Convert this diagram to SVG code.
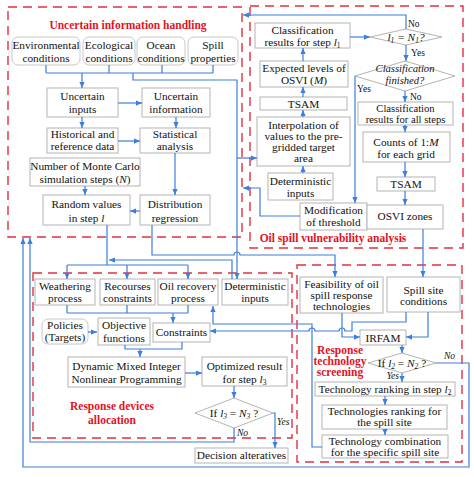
<svg xmlns="http://www.w3.org/2000/svg" width="474" height="477" viewBox="0 0 474 477" font-family="'Liberation Serif', 'Times New Roman', serif">
<defs>
<marker id="ah" viewBox="0 0 8 8" refX="8" refY="4" markerWidth="6" markerHeight="6" markerUnits="userSpaceOnUse" orient="auto"><path d="M0,0.5 L8,4 L0,7.5 z" fill="#3d7fdb"/></marker>
</defs>
<style>
text{font-family:'Liberation Serif','Times New Roman',serif;font-size:11.3px;fill:#111;text-anchor:middle}
.box{fill:#fff;stroke:#b4b4b4;stroke-width:1}
.rbox{fill:#fff;stroke:#c8c8c8;stroke-width:1}
.dia{fill:#fff;stroke:#b4b4b4;stroke-width:1}
.zone{fill:none;stroke:#e2303f;stroke-width:1.4;stroke-dasharray:9,6}
.title{fill:#e3121f;font-weight:bold;font-size:11.5px}
.c{fill:none;stroke:#3d7fdb;stroke-width:1.2}
.a{marker-end:url(#ah)}
.i{font-style:italic}
.lab{font-size:9.5px}
.sub{font-size:7.5px}
.sm{font-size:10.6px}
</style>
<rect width="474" height="477" fill="#fff"/>
<g id="zones">
<rect class="zone" x="8" y="7" width="234" height="230"/>
<rect class="zone" x="250" y="6" width="213" height="242"/>
<rect class="zone" x="33" y="273" width="259" height="165"/>
<rect class="zone" x="297" y="265" width="165" height="197"/>
<text class="title" x="128" y="29">Uncertain information handling</text>
<text class="title" x="333" y="242">Oil spill vulnerability analysis</text>
<text class="title" x="112" y="410">Response devices</text>
<text class="title" x="112" y="424">allocation</text>
<text class="title" x="340" y="354">Response</text>
<text class="title" x="340" y="365">technology</text>
<text class="title" x="340" y="376">screening</text>
</g>
<g id="n-env"><rect class="rbox" x="12" y="37" width="68" height="28" rx="6"/><text x="46" y="49">Environmental</text><text x="46" y="62">conditions</text></g>
<g id="n-eco"><rect class="rbox" x="83" y="37" width="52" height="28" rx="6"/><text x="109" y="49">Ecological</text><text x="109" y="62">conditions</text></g>
<g id="n-ocean"><rect class="rbox" x="137" y="37" width="48" height="28" rx="6"/><text x="161" y="49">Ocean</text><text x="161" y="62">conditions</text></g>
<g id="n-spill"><rect class="rbox" x="188" y="37" width="50" height="28" rx="6"/><text x="213" y="49">Spill</text><text x="213" y="62">properties</text></g>
<g id="n-uinputs"><rect class="box" x="47" y="88" width="71" height="29"/><text x="82.5" y="100">Uncertain</text><text x="82.5" y="113">inputs</text></g>
<g id="n-uinfo"><rect class="box" x="142" y="88" width="68" height="29"/><text x="176" y="100">Uncertain</text><text x="176" y="113">information</text></g>
<g id="n-hist"><rect class="box" x="47" y="128" width="71" height="25"/><text x="82.5" y="138">Historical and</text><text x="82.5" y="150">reference data</text></g>
<g id="n-stat"><rect class="box" x="140" y="128" width="70" height="25"/><text x="175" y="138">Statistical</text><text x="175" y="150">analysis</text></g>
<g id="n-mc"><rect class="box" x="30" y="158" width="110" height="28"/><text x="85" y="170">Number of Monte Carlo</text><text x="85" y="183">simulation steps (<tspan class="i">N</tspan>)</text></g>
<g id="n-random"><rect class="box" x="43" y="195" width="87" height="30"/><text x="86.5" y="208">Random values</text><text x="86.5" y="222">in step <tspan class="i">l</tspan></text></g>
<g id="n-dist"><rect class="box" x="140" y="195" width="70" height="30"/><text x="175" y="208">Distribution</text><text x="175" y="222">regression</text></g>
<g id="n-cls1"><rect class="box" x="255" y="23" width="95" height="25"/><text x="302.5" y="34">Classification</text><text x="302.5" y="46">results for step <tspan class="i">l</tspan><tspan class="sub" dy="2">1</tspan></text></g>
<g id="n-d1"><polygon class="dia" points="370,37 406,29 442,37 406,45"/><text class="i" x="406" y="41">l<tspan class="sub" dy="2">1</tspan><tspan dy="-2"> = N</tspan><tspan class="sub" dy="2">1</tspan><tspan dy="-2">?</tspan></text></g>
<g id="n-dfin"><polygon class="dia" points="355,76 405,61 455,76 405,91"/><text class="i sm" x="405" y="72">Classification</text><text class="i sm" x="405" y="84">finished?</text></g>
<g id="n-exp"><rect class="box" x="260" y="61" width="88" height="26"/><text x="304" y="72">Expected levels of</text><text x="304" y="84">OSVI (<tspan class="i">M</tspan>)</text></g>
<g id="n-tsam1"><rect class="box" x="260" y="97" width="87" height="13"/><text x="303.5" y="108">TSAM</text></g>
<g id="n-interp"><rect class="box" x="257" y="117" width="93" height="49"/><text x="303.5" y="129">Interpolation of</text><text x="303.5" y="140">values to the pre-</text><text x="303.5" y="151">gridded target</text><text x="303.5" y="162">area</text></g>
<g id="n-det1"><rect class="box" x="268" y="173" width="65" height="27"/><text x="300.5" y="185">Deterministic</text><text x="300.5" y="197">inputs</text></g>
<g id="n-mod"><rect class="box" x="300" y="203" width="67" height="27"/><text x="333.5" y="214">Modification</text><text x="333.5" y="226">of threshold</text></g>
<g id="n-clsall"><rect class="box" x="358" y="102" width="95" height="23"/><text class="sm" x="405.5" y="112">Classification</text><text class="sm" x="405.5" y="123">results for all steps</text></g>
<g id="n-counts"><rect class="box" x="363" y="132" width="87" height="30"/><text x="406" y="146">Counts of 1:<tspan class="i">M</tspan></text><text x="406" y="158">for each grid</text></g>
<g id="n-tsam2"><rect class="box" x="377" y="177" width="58" height="14"/><text x="406" y="188">TSAM</text></g>
<g id="n-osvi"><rect class="box" x="367" y="205" width="76" height="24"/><text x="405" y="220">OSVI zones</text></g>
<g id="n-weath"><rect class="box" x="35" y="279" width="60" height="26"/><text x="65" y="290">Weathering</text><text x="65" y="302">process</text></g>
<g id="n-recourse"><rect class="box" x="100" y="279" width="55" height="26"/><text x="127.5" y="290">Recourses</text><text x="127.5" y="302">constraints</text></g>
<g id="n-oilrec"><rect class="box" x="158" y="279" width="60" height="26"/><text x="188" y="290">Oil recovery</text><text x="188" y="302">process</text></g>
<g id="n-det2"><rect class="box" x="222" y="279" width="66" height="26"/><text x="255" y="290">Deterministic</text><text x="255" y="302">inputs</text></g>
<g id="n-policies"><rect class="rbox" x="42" y="319" width="46" height="25" rx="6"/><text x="65" y="329">Policies</text><text x="65" y="341">(Targets)</text></g>
<g id="n-obj"><rect class="box" x="98" y="318" width="52" height="27" stroke="#e4e4e4"/><text x="124" y="329">Objective</text><text x="124" y="342">functions</text></g>
<g id="n-constr"><rect class="box" x="153" y="323" width="57" height="19"/><text x="181.5" y="336">Constraints</text></g>
<g id="n-dminlp"><rect class="box" x="68" y="357" width="117" height="30"/><text x="126.5" y="370">Dynamic Mixed Integer</text><text x="126.5" y="383">Nonlinear Programming</text></g>
<g id="n-opt"><rect class="box" x="202" y="357" width="85" height="29"/><text x="244.5" y="370">Optimized result</text><text x="244.5" y="383">for step <tspan class="i">l</tspan><tspan class="sub" dy="2">3</tspan></text></g>
<g id="n-d3"><polygon class="dia" points="195,413 234,398 273,413 234,428"/><text x="234" y="417">If <tspan class="i">l</tspan><tspan class="sub i" dy="2">3</tspan><tspan dy="-2"> = </tspan><tspan class="i">N</tspan><tspan class="sub i" dy="2">3</tspan><tspan dy="-2"> ?</tspan></text></g>
<g id="n-decision"><rect class="box" x="195" y="448" width="93" height="15"/><text x="241.5" y="459">Decision alteratives</text></g>
<g id="n-feas"><rect class="box" x="300" y="277" width="83" height="36"/><text x="341.5" y="288">Feasibility of oil</text><text x="341.5" y="299">spill response</text><text x="341.5" y="310">technologies</text></g>
<g id="n-site"><rect class="box" x="387" y="277" width="73" height="35"/><text x="423.5" y="294">Spill site</text><text x="423.5" y="305">conditions</text></g>
<g id="n-irfam"><rect class="box" x="360" y="330" width="46" height="15"/><text x="383" y="342">IRFAM</text></g>
<g id="n-d2"><polygon class="dia" points="368,363 402,353 436,363 402,373"/><text x="402" y="367">If <tspan class="i">l</tspan><tspan class="sub i" dy="2">2</tspan><tspan dy="-2"> = </tspan><tspan class="i">N</tspan><tspan class="sub i" dy="2">2</tspan><tspan dy="-2"> ?</tspan></text></g>
<g id="n-rank2"><rect class="box" x="315" y="382" width="140" height="14"/><text x="385" y="393">Technology ranking in step <tspan class="i">l</tspan><tspan class="sub" dy="2">2</tspan></text></g>
<g id="n-ranksite"><rect class="box" x="322" y="405" width="125" height="24"/><text x="384.5" y="415">Technologies ranking for</text><text x="384.5" y="426">the spill site</text></g>
<g id="n-combo"><rect class="box" x="322" y="435" width="126" height="23"/><text x="385" y="445">Technology combination</text><text x="385" y="456">for the specific spill site</text></g>
<g id="connectors">
<path class="c" d="M46,65 V73 M109,65 V73 M162,65 V73 M213,65 V73 M46,73 H213"/>
<path class="c a" d="M82,73 V88"/>
<path class="c a" d="M133,73 V80 H237 V279"/>
<path class="c a" d="M237,158 H257"/>
<path class="c a" d="M118,103 H142"/>
<path class="c a" d="M82,117 V128"/>
<path class="c a" d="M176,117 V128"/>
<path class="c a" d="M118,141 H140"/>
<path class="c a" d="M85,186 V195"/>
<path class="c a" d="M175,153 V195"/>
<path class="c a" d="M140,211 H130"/>
<path class="c a" d="M152,225 V255 H234 a3,3 0 0 1 6,0 H335 V277"/>
<path class="c" d="M107,225 V265 M67,265 H188"/>
<path class="c a" d="M67,265 V279"/>
<path class="c a" d="M127,265 V279"/>
<path class="c a" d="M188,265 V279"/>
<path class="c a" d="M232,279 V260 H109"/>
<path class="c a" d="M350,37 H370"/>
<path class="c a" d="M406,29 V15 H243"/>
<path class="c a" d="M406,45 V61"/>
<path class="c a" d="M405,91 V102"/>
<path class="c a" d="M355,76 V203"/>
<path class="c a" d="M405,125 V132"/>
<path class="c a" d="M405,162 V177"/>
<path class="c a" d="M405,191 V205"/>
<path class="c a" d="M423,229 V277"/>
<path class="c a" d="M303,61 V48"/>
<path class="c a" d="M303,97 V87"/>
<path class="c a" d="M303,117 V110"/>
<path class="c a" d="M303,173 V166"/>
<path class="c a" d="M300,216 H260 V188 H243"/>
<path class="c" d="M67,305 V313 M127,305 V313 M188,305 V313 M67,313 H188"/>
<path class="c a" d="M173,313 V323"/>
<path class="c a" d="M88,332 H97"/>
<path class="c" d="M125,345 V349 H182 V342"/>
<path class="c a" d="M140,349 V357"/>
<path class="c a" d="M185,373 H202"/>
<path class="c a" d="M234,386 V398"/>
<path class="c a" d="M273,413 H275 V448"/>
<path class="c a" d="M234,428 V442 H30 V238"/>
<path class="c a" d="M406,312 V322 H352 V331 H345 a3,3 0 0 0 -6,0 H315 a3,3 0 0 0 -6,0 H210"/>
<path class="c a" d="M322,447 H312 V324 H213 V306"/>
<path class="c a" d="M342,313 V337 H360"/>
<path class="c a" d="M428,312 V337 H406"/>
<path class="c a" d="M402,345 V353"/>
<path class="c a" d="M402,373 V382"/>
<path class="c a" d="M385,396 V405"/>
<path class="c a" d="M385,429 V435"/>
<path class="c a" d="M436,363 H469 V467 H23 V238"/>
<text class="lab" x="408" y="27" style="text-anchor:start">No</text>
<text class="lab" x="411" y="56" style="text-anchor:start">Yes</text>
<text class="lab" x="410" y="100" style="text-anchor:start">No</text>
<text class="lab" x="357" y="92" style="text-anchor:start">Yes</text>
<text class="lab i" x="277" y="425" style="text-anchor:start">Yes</text>
<text class="lab i" x="237" y="436" style="text-anchor:start">No</text>
<text class="lab i" x="444" y="359" style="text-anchor:start">No</text>
<text class="lab i" x="399" y="379" style="text-anchor:end">Yes</text>
</g>
</svg>
